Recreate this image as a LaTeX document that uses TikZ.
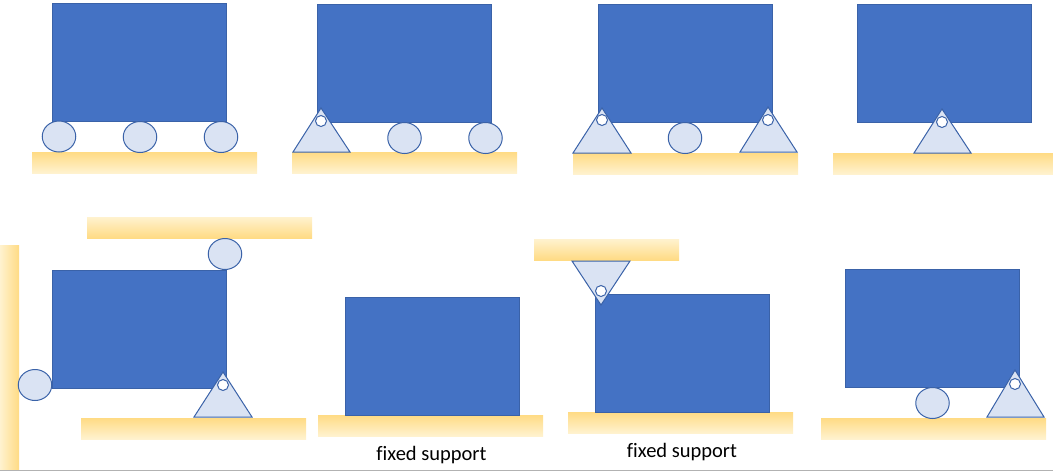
\documentclass[tikz,border=0pt]{standalone}
\usepackage{fontspec}
\setmainfont{Carlito}[RawFeature={-liga}]
\usetikzlibrary{shapes.geometric}
\definecolor{bodyblue}{HTML}{4472C4}
\definecolor{bodyline}{HTML}{3A62A8}
\definecolor{supfill}{HTML}{DAE3F3}
\definecolor{goldA}{HTML}{FFDB84}
\definecolor{goldB}{HTML}{FFF2CF}
\tikzset{
  bodybox/.style={fill=bodyblue,draw=bodyline,line width=0.7pt},
  roller/.style={ellipse,draw=bodyline,fill=supfill,line width=1pt,minimum width=33.5pt,minimum height=31pt,inner sep=0pt},
  hinge/.style={draw=bodyline,fill=supfill,line width=1pt,line join=miter},
  pin/.style={circle,draw=bodyline,fill=white,line width=1pt,minimum size=11pt,inner sep=0pt},
  groundtop/.style={top color=goldA,bottom color=goldB,draw=none},
  groundbot/.style={top color=goldB,bottom color=goldA,draw=none},
  groundside/.style={left color=goldB,right color=goldA,draw=none},
  caption/.style={font=\fontsize{20.5}{24}\selectfont,text=black,inner sep=0pt}
}
\newcommand{\tri}[7]{\draw[hinge] (#1,#2) -- (#3,#4) -- (#5,#4) -- cycle; \node[pin] (#6) at (#1,#7) {};}
\begin{document}
\begin{tikzpicture}[x=1pt,y=-1pt]
\useasboundingbox (0,0) rectangle (1053,472);
% ground bars
\fill[groundtop] (32,152) rectangle (257,173);
\fill[groundtop] (292,152) rectangle (517,173);
\fill[groundtop] (573,153) rectangle (798,174);
\fill[groundtop] (833,153) rectangle (1053,174);
\fill[groundbot] (87,217) rectangle (312,238);
\fill[groundside] (0,245) rectangle (19,470);
\fill[groundtop] (81,418) rectangle (306,439);
\fill[groundtop] (318,415) rectangle (543,436);
\fill[groundbot] (534,239) rectangle (679,260);
\fill[groundtop] (568,412) rectangle (793,433);
\fill[groundtop] (821,418) rectangle (1046,439);
% bodies
\draw[bodybox] (52,3) rectangle (226.7,121);
\draw[bodybox] (317,4) rectangle (491.7,122);
\draw[bodybox] (598,4) rectangle (772.7,122);
\draw[bodybox] (857,4) rectangle (1031.7,122);
\draw[bodybox] (52,270) rectangle (226.7,388);
\draw[bodybox] (345,297) rectangle (519,415);
\draw[bodybox] (595,294) rectangle (769.7,412);
\draw[bodybox] (845,269) rectangle (1019.7,387);
% rollers
\node[roller] (r1) at (59,136.5) {};
\node[roller] (r2) at (140,137) {};
\node[roller] (r3) at (221,137) {};
\node[roller] (r4) at (404.5,138) {};
\node[roller] (r5) at (485.5,138) {};
\node[roller] (r6) at (685,138) {};
\node[roller] (r7) at (225,254) {};
\node[roller] (r8) at (35,385) {};
\node[roller] (r9) at (932.5,403) {};
% hinges
\tri{321}{108}{293}{152}{350}{p1}{121}
\tri{602}{108}{573}{153}{631}{p2}{120}
\tri{768}{107}{740}{152}{797}{p3}{120}
\tri{942}{109}{914}{153}{971}{p4}{122}
\tri{223}{372}{194}{417}{252}{p5}{385}
\tri{601}{305}{572}{261}{630}{p6}{291}
\tri{1015}{370}{987}{417}{1044}{p7}{384}
% captions
\node[caption] (c1) at (431.5,455.5) {fixed support};
\node[caption] (c2) at (682,452.5) {fixed support};
% frame line
\coordinate (fl) at (0,470.5); \coordinate (fr) at (1053,470.5);
\draw[black!30,line width=0.8pt] (fl) -- (fr);
\end{tikzpicture}
\end{document}
